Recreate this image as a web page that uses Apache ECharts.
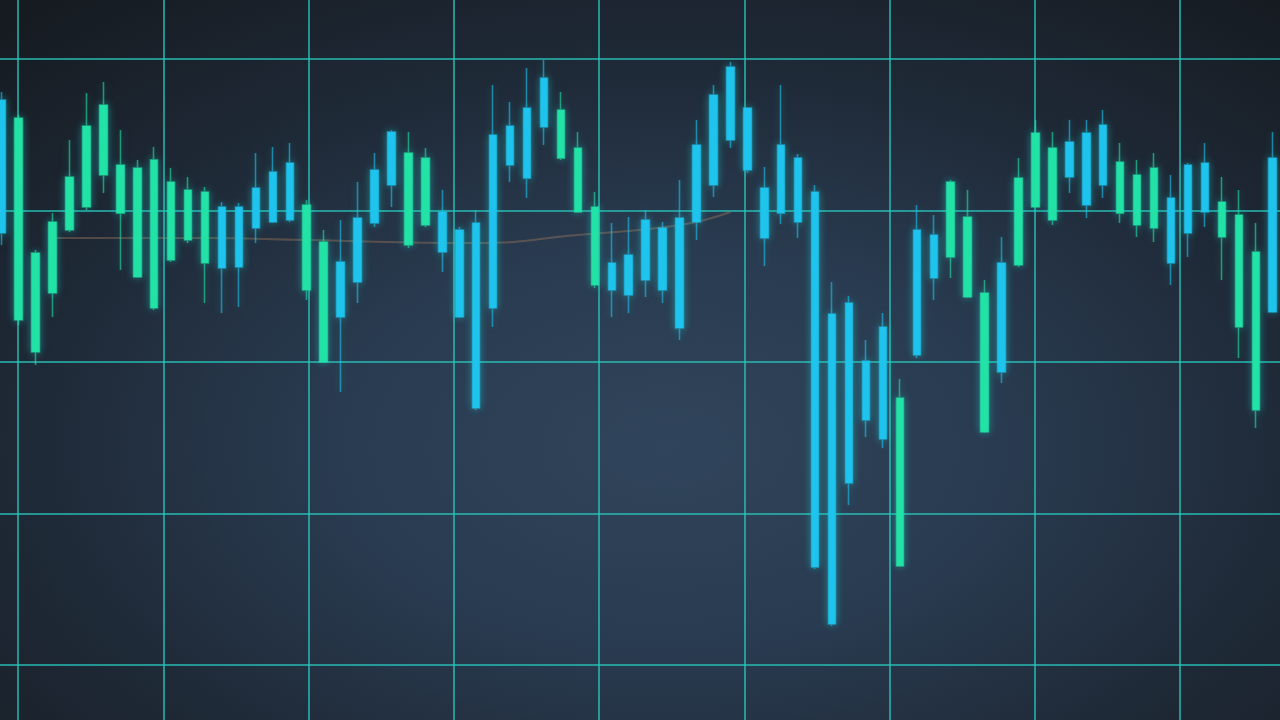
<!DOCTYPE html>
<html>
<head>
<meta charset="utf-8">
<script src="https://cdn.jsdelivr.net/npm/echarts@6/dist/echarts.min.js"></script>
<style>
html,body{margin:0;padding:0;width:1280px;height:720px;overflow:hidden;
background:radial-gradient(ellipse 75% 80% at 52% 62%, #30445b 0%, #293b50 35%, #1f2a38 65%, #161b21 100%);}
#chart{width:1280px;height:720px;}
</style>
</head>
<body>
<div id="chart"></div>
<script>
// ---- data ----
const opens = [472.9, 327.7, 306.6, 345.5, 387.1, 402.3, 423.4, 398.3, 356.1, 335.6,
  367.3, 380.5, 365.3, 402.3, 402.3, 414.8, 425.4, 431.3, 347.5, 300.0,
  366.0, 395.0, 426.7, 451.8, 377.2, 390.4, 399.0, 387.1, 391.7, 449.8,
  455.8, 467.6, 487.4, 434.6, 399.0, 350.8, 365.3, 370.6, 393.7, 388.4,
  395.0, 443.2, 476.2, 494.7, 467.6, 414.8, 443.2, 434.6, 412.2, 331.7,
  338.9, 300.6, 323.1, 165.3, 387.1, 383.8, 369.3, 342.9, 253.8, 365.3,
  364.0, 402.3, 393.7, 445.2, 451.1, 456.4, 398.3, 390.4, 388.4, 408.2,
  430.0, 431.3, 382.5, 323.1, 268.3, 434.6];
const closes = [385.1, 461.0, 371.9, 392.4, 422.1, 455.8, 469.6, 430.0, 428.0, 433.4,
  418.8, 413.5, 412.2, 362.0, 362.7, 388.4, 392.4, 393.7, 403.6, 379.2,
  329.7, 352.8, 391.7, 416.8, 437.9, 434.6, 372.6, 329.7, 269.6, 335.6,
  430.0, 421.4, 455.1, 466.3, 441.2, 402.3, 347.5, 344.2, 354.1, 347.5,
  322.4, 392.4, 416.8, 446.5, 426.7, 381.8, 398.3, 392.4, 164.7, 127.1,
  220.1, 261.7, 249.2, 276.2, 304.6, 355.4, 418.8, 395.7, 345.5, 293.4,
  421.4, 451.1, 441.2, 422.1, 403.6, 416.8, 432.0, 423.4, 428.0, 365.3,
  385.1, 399.0, 405.6, 397.0, 372.6, 333.0];
const lows = [377.2, 324.4, 298.0, 329.7, 385.8, 400.3, 411.5, 360.7, 355.4, 334.3,
  366.0, 378.5, 338.9, 332.3, 336.3, 378.5, 391.7, 392.4, 340.9, 299.3,
  280.2, 338.9, 389.1, 402.3, 375.2, 389.1, 359.4, 329.0, 268.3, 323.1,
  418.8, 408.2, 443.2, 433.3, 398.3, 348.8, 329.7, 332.3, 342.9, 338.9,
  314.5, 380.5, 408.9, 441.2, 424.7, 363.3, 391.1, 381.8, 163.4, 125.7,
  205.6, 250.5, 243.2, 164.7, 302.6, 340.9, 355.4, 342.2, 253.1, 286.1,
  362.7, 401.6, 390.4, 411.5, 395.0, 408.2, 391.7, 382.5, 379.2, 350.8,
  369.3, 389.1, 354.1, 302.6, 256.4, 332.3];
const highs = [478.2, 463.0, 373.9, 398.3, 446.5, 477.5, 484.8, 453.1, 433.4, 441.9,
  428.0, 422.1, 415.5, 405.6, 404.9, 437.9, 441.9, 444.5, 406.9, 387.1,
  393.7, 418.8, 437.9, 453.1, 451.8, 441.2, 413.5, 389.1, 400.3, 482.8,
  471.6, 494.0, 499.3, 478.2, 451.8, 412.2, 391.7, 395.7, 400.3, 392.4,
  420.1, 459.7, 482.8, 498.0, 468.3, 428.7, 482.8, 437.3, 416.8, 352.8,
  343.5, 314.5, 332.3, 288.8, 403.6, 397.0, 420.1, 413.5, 354.1, 382.5,
  434.6, 459.7, 451.8, 459.7, 459.7, 466.3, 444.5, 433.3, 437.9, 423.4,
  431.3, 444.5, 422.1, 413.5, 391.7, 451.8];
// faint trend line: [candle index, value]
const trendPoints = [[3, 381.8], [12, 381.8], [18, 380.5], [28, 378.5], [34, 383.8], [40, 390.4], [43, 399.0]];
// horizontal grid levels
const yMin = 100, yStep = 100;

const categories = opens.map((_, i) => 'T' + (i + 1));
const candles = opens.map((o, i) => [o, closes[i], lows[i], highs[i]]);

// ---- layout ----
const yMax = yMin + 665 / 1.515;
const xGridMax = 1262 / 145.25;
const gridLine = { show: true, lineStyle: { color: 'rgba(38,196,186,0.7)', width: 2 }, showMaxLine: false };
const off = { axisLine: { show: false }, axisTick: { show: false }, axisLabel: { show: false } };

const chart = echarts.init(document.getElementById('chart'), null, { renderer: 'canvas' });
chart.setOption({
  backgroundColor: 'transparent',
  animation: false,
  grid: [
    { left: 18, right: 0, top: 0, bottom: 0 },
    { left: 0, right: 0, top: 0, bottom: 55 },
    { left: 1.7, right: 7.3, top: 0, bottom: 55 }
  ],
  xAxis: [
    Object.assign({ gridIndex: 0, type: 'value', min: 0, max: xGridMax, interval: 1,
      splitLine: Object.assign({}, gridLine, { showMinLine: true }) }, off),
    Object.assign({ gridIndex: 1, type: 'value', min: 0, max: 1, splitLine: { show: false } }, off),
    { gridIndex: 2, type: 'category', data: categories, boundaryGap: false, show: false }
  ],
  yAxis: [
    Object.assign({ gridIndex: 0, type: 'value', min: 0, max: 1, splitLine: { show: false } }, off),
    Object.assign({ gridIndex: 1, type: 'value', min: yMin, max: yMax, interval: yStep,
      splitLine: Object.assign({}, gridLine, { showMinLine: true }) }, off),
    { gridIndex: 2, type: 'value', min: yMin, max: yMax, show: false }
  ],
  series: [
    {
      type: 'line', xAxisIndex: 2, yAxisIndex: 2, data: trendPoints,
      smooth: true, symbol: 'none', connectNulls: true, z: 1,
      lineStyle: { color: 'rgba(196,140,96,0.32)', width: 2 }
    },
    {
      type: 'candlestick', xAxisIndex: 2, yAxisIndex: 2, data: candles,
      barWidth: 8, clip: false, z: 3,
      itemStyle: {
        color: '#22e3a4', color0: '#1ec3ee',
        borderColor: 'rgba(34,227,164,0.6)', borderColor0: 'rgba(30,195,238,0.6)',
        borderWidth: 1.6,
        shadowBlur: 8, shadowColor: 'rgba(40,220,220,0.45)'
      }
    }
  ]
});
</script>
</body>
</html>
